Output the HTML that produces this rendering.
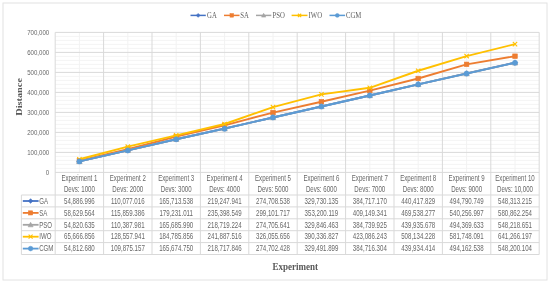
<!DOCTYPE html><html><head><meta charset="utf-8"><style>html,body{margin:0;padding:0;background:#fff;overflow:hidden}svg{display:block}</style></head><body>
<svg width="550" height="283" viewBox="0 0 550 283">
<rect x="0" y="0" width="550" height="283" fill="#fff"/>
<rect x="3" y="3" width="544" height="277" fill="#fff" stroke="#e2e2e2" stroke-width="1"/>
<path d="M55.2 36.40H539.2M55.2 40.40H539.2M55.2 44.40H539.2M55.2 48.40H539.2M55.2 56.40H539.2M55.2 60.40H539.2M55.2 64.40H539.2M55.2 68.40H539.2M55.2 76.40H539.2M55.2 80.40H539.2M55.2 84.40H539.2M55.2 88.40H539.2M55.2 96.40H539.2M55.2 100.40H539.2M55.2 104.40H539.2M55.2 108.40H539.2M55.2 116.40H539.2M55.2 120.40H539.2M55.2 124.40H539.2M55.2 128.40H539.2M55.2 136.40H539.2M55.2 140.40H539.2M55.2 144.40H539.2M55.2 148.40H539.2M55.2 156.40H539.2M55.2 160.40H539.2M55.2 164.40H539.2M55.2 168.40H539.2" stroke="#f4f4f4" stroke-width="1" fill="none"/>
<path d="M79.40 32.4V172.4M127.80 32.4V172.4M176.20 32.4V172.4M224.60 32.4V172.4M273.00 32.4V172.4M321.40 32.4V172.4M369.80 32.4V172.4M418.20 32.4V172.4M466.60 32.4V172.4M515.00 32.4V172.4" stroke="#f2f2f2" stroke-width="1" fill="none"/>
<path d="M55.2 32.40H539.2M55.2 52.40H539.2M55.2 72.40H539.2M55.2 92.40H539.2M55.2 112.40H539.2M55.2 132.40H539.2M55.2 152.40H539.2M55.2 172.40H539.2" stroke="#d9d9d9" stroke-width="1" fill="none"/>
<path d="M55.20 32.4V254.50M103.60 32.4V254.50M152.00 32.4V254.50M200.40 32.4V254.50M248.80 32.4V254.50M297.20 32.4V254.50M345.60 32.4V254.50M394.00 32.4V254.50M442.40 32.4V254.50M490.80 32.4V254.50M539.20 32.4V254.50M21.4 195.00H539.2M21.4 206.90H539.2M21.4 218.80H539.2M21.4 230.70H539.2M21.4 242.60H539.2M21.4 254.50H539.2M21.4 195V254.50" stroke="#d9d9d9" stroke-width="1" fill="none"/>
<polyline points="79.40,161.42 127.80,150.38 176.20,139.26 224.60,128.55 273.00,117.46 321.40,106.45 369.80,95.46 418.20,84.32 466.60,73.44 515.00,62.74" fill="none" stroke="#4472C4" stroke-width="1.9" stroke-linejoin="round" stroke-linecap="round"/>
<path d="M79.40 158.82L82.00 161.42L79.40 164.02L76.80 161.42Z" fill="#4472C4" stroke="#4472C4" stroke-width="0.6"/>
<path d="M127.80 147.78L130.40 150.38L127.80 152.98L125.20 150.38Z" fill="#4472C4" stroke="#4472C4" stroke-width="0.6"/>
<path d="M176.20 136.66L178.80 139.26L176.20 141.86L173.60 139.26Z" fill="#4472C4" stroke="#4472C4" stroke-width="0.6"/>
<path d="M224.60 125.95L227.20 128.55L224.60 131.15L222.00 128.55Z" fill="#4472C4" stroke="#4472C4" stroke-width="0.6"/>
<path d="M273.00 114.86L275.60 117.46L273.00 120.06L270.40 117.46Z" fill="#4472C4" stroke="#4472C4" stroke-width="0.6"/>
<path d="M321.40 103.85L324.00 106.45L321.40 109.05L318.80 106.45Z" fill="#4472C4" stroke="#4472C4" stroke-width="0.6"/>
<path d="M369.80 92.86L372.40 95.46L369.80 98.06L367.20 95.46Z" fill="#4472C4" stroke="#4472C4" stroke-width="0.6"/>
<path d="M418.20 81.72L420.80 84.32L418.20 86.92L415.60 84.32Z" fill="#4472C4" stroke="#4472C4" stroke-width="0.6"/>
<path d="M466.60 70.84L469.20 73.44L466.60 76.04L464.00 73.44Z" fill="#4472C4" stroke="#4472C4" stroke-width="0.6"/>
<path d="M515.00 60.14L517.60 62.74L515.00 65.34L512.40 62.74Z" fill="#4472C4" stroke="#4472C4" stroke-width="0.6"/>
<polyline points="79.40,160.67 127.80,149.23 176.20,136.55 224.60,125.32 273.00,112.58 321.40,101.76 369.80,90.57 418.20,78.49 466.60,64.35 515.00,56.23" fill="none" stroke="#ED7D31" stroke-width="1.9" stroke-linejoin="round" stroke-linecap="round"/>
<rect x="77.10" y="158.37" width="4.60" height="4.60" fill="#ED7D31" stroke="#ED7D31" stroke-width="0.6"/>
<rect x="125.50" y="146.93" width="4.60" height="4.60" fill="#ED7D31" stroke="#ED7D31" stroke-width="0.6"/>
<rect x="173.90" y="134.25" width="4.60" height="4.60" fill="#ED7D31" stroke="#ED7D31" stroke-width="0.6"/>
<rect x="222.30" y="123.02" width="4.60" height="4.60" fill="#ED7D31" stroke="#ED7D31" stroke-width="0.6"/>
<rect x="270.70" y="110.28" width="4.60" height="4.60" fill="#ED7D31" stroke="#ED7D31" stroke-width="0.6"/>
<rect x="319.10" y="99.46" width="4.60" height="4.60" fill="#ED7D31" stroke="#ED7D31" stroke-width="0.6"/>
<rect x="367.50" y="88.27" width="4.60" height="4.60" fill="#ED7D31" stroke="#ED7D31" stroke-width="0.6"/>
<rect x="415.90" y="76.19" width="4.60" height="4.60" fill="#ED7D31" stroke="#ED7D31" stroke-width="0.6"/>
<rect x="464.30" y="62.05" width="4.60" height="4.60" fill="#ED7D31" stroke="#ED7D31" stroke-width="0.6"/>
<rect x="512.70" y="53.93" width="4.60" height="4.60" fill="#ED7D31" stroke="#ED7D31" stroke-width="0.6"/>
<polyline points="79.40,161.44 127.80,150.32 176.20,139.26 224.60,128.66 273.00,117.46 321.40,106.43 369.80,95.45 418.20,84.41 466.60,73.53 515.00,62.76" fill="none" stroke="#A5A5A5" stroke-width="1.9" stroke-linejoin="round" stroke-linecap="round"/>
<path d="M79.40 158.64L82.20 163.68L76.60 163.68Z" fill="#A5A5A5" stroke="#A5A5A5" stroke-width="0.6"/>
<path d="M127.80 147.52L130.60 152.56L125.00 152.56Z" fill="#A5A5A5" stroke="#A5A5A5" stroke-width="0.6"/>
<path d="M176.20 136.46L179.00 141.50L173.40 141.50Z" fill="#A5A5A5" stroke="#A5A5A5" stroke-width="0.6"/>
<path d="M224.60 125.86L227.40 130.90L221.80 130.90Z" fill="#A5A5A5" stroke="#A5A5A5" stroke-width="0.6"/>
<path d="M273.00 114.66L275.80 119.70L270.20 119.70Z" fill="#A5A5A5" stroke="#A5A5A5" stroke-width="0.6"/>
<path d="M321.40 103.63L324.20 108.67L318.60 108.67Z" fill="#A5A5A5" stroke="#A5A5A5" stroke-width="0.6"/>
<path d="M369.80 92.65L372.60 97.69L367.00 97.69Z" fill="#A5A5A5" stroke="#A5A5A5" stroke-width="0.6"/>
<path d="M418.20 81.61L421.00 86.65L415.40 86.65Z" fill="#A5A5A5" stroke="#A5A5A5" stroke-width="0.6"/>
<path d="M466.60 70.73L469.40 75.77L463.80 75.77Z" fill="#A5A5A5" stroke="#A5A5A5" stroke-width="0.6"/>
<path d="M515.00 59.96L517.80 65.00L512.20 65.00Z" fill="#A5A5A5" stroke="#A5A5A5" stroke-width="0.6"/>
<polyline points="79.40,159.27 127.80,146.69 176.20,135.44 224.60,124.02 273.00,107.19 321.40,94.33 369.80,87.78 418.20,70.77 466.60,56.05 515.00,44.15" fill="none" stroke="#FFC000" stroke-width="1.9" stroke-linejoin="round" stroke-linecap="round"/>
<path d="M77.20 157.07L81.60 161.47M81.60 157.07L77.20 161.47" stroke="#FFC000" stroke-width="1.1" fill="none"/>
<path d="M125.60 144.49L130.00 148.89M130.00 144.49L125.60 148.89" stroke="#FFC000" stroke-width="1.1" fill="none"/>
<path d="M174.00 133.24L178.40 137.64M178.40 133.24L174.00 137.64" stroke="#FFC000" stroke-width="1.1" fill="none"/>
<path d="M222.40 121.82L226.80 126.22M226.80 121.82L222.40 126.22" stroke="#FFC000" stroke-width="1.1" fill="none"/>
<path d="M270.80 104.99L275.20 109.39M275.20 104.99L270.80 109.39" stroke="#FFC000" stroke-width="1.1" fill="none"/>
<path d="M319.20 92.13L323.60 96.53M323.60 92.13L319.20 96.53" stroke="#FFC000" stroke-width="1.1" fill="none"/>
<path d="M367.60 85.58L372.00 89.98M372.00 85.58L367.60 89.98" stroke="#FFC000" stroke-width="1.1" fill="none"/>
<path d="M416.00 68.57L420.40 72.97M420.40 68.57L416.00 72.97" stroke="#FFC000" stroke-width="1.1" fill="none"/>
<path d="M464.40 53.85L468.80 58.25M468.80 53.85L464.40 58.25" stroke="#FFC000" stroke-width="1.1" fill="none"/>
<path d="M512.80 41.95L517.20 46.35M517.20 41.95L512.80 46.35" stroke="#FFC000" stroke-width="1.1" fill="none"/>
<polyline points="79.40,161.44 127.80,150.42 176.20,139.27 224.60,128.66 273.00,117.46 321.40,106.50 369.80,95.46 418.20,84.41 466.60,73.57 515.00,62.76" fill="none" stroke="#5B9BD5" stroke-width="1.9" stroke-linejoin="round" stroke-linecap="round"/>
<circle cx="79.40" cy="161.44" r="2.60" fill="#5B9BD5" stroke="#5B9BD5" stroke-width="0.5"/>
<circle cx="127.80" cy="150.42" r="2.60" fill="#5B9BD5" stroke="#5B9BD5" stroke-width="0.5"/>
<circle cx="176.20" cy="139.27" r="2.60" fill="#5B9BD5" stroke="#5B9BD5" stroke-width="0.5"/>
<circle cx="224.60" cy="128.66" r="2.60" fill="#5B9BD5" stroke="#5B9BD5" stroke-width="0.5"/>
<circle cx="273.00" cy="117.46" r="2.60" fill="#5B9BD5" stroke="#5B9BD5" stroke-width="0.5"/>
<circle cx="321.40" cy="106.50" r="2.60" fill="#5B9BD5" stroke="#5B9BD5" stroke-width="0.5"/>
<circle cx="369.80" cy="95.46" r="2.60" fill="#5B9BD5" stroke="#5B9BD5" stroke-width="0.5"/>
<circle cx="418.20" cy="84.41" r="2.60" fill="#5B9BD5" stroke="#5B9BD5" stroke-width="0.5"/>
<circle cx="466.60" cy="73.57" r="2.60" fill="#5B9BD5" stroke="#5B9BD5" stroke-width="0.5"/>
<circle cx="515.00" cy="62.76" r="2.60" fill="#5B9BD5" stroke="#5B9BD5" stroke-width="0.5"/>
<text transform="translate(49.20 34.60) scale(0.846 1)" text-anchor="end" font-size="7.2" font-family="Liberation Sans, Arial, sans-serif" fill="#686868">700,000</text>
<text transform="translate(49.20 54.60) scale(0.846 1)" text-anchor="end" font-size="7.2" font-family="Liberation Sans, Arial, sans-serif" fill="#686868">600,000</text>
<text transform="translate(49.20 74.60) scale(0.846 1)" text-anchor="end" font-size="7.2" font-family="Liberation Sans, Arial, sans-serif" fill="#686868">500,000</text>
<text transform="translate(49.20 94.60) scale(0.846 1)" text-anchor="end" font-size="7.2" font-family="Liberation Sans, Arial, sans-serif" fill="#686868">400,000</text>
<text transform="translate(49.20 114.60) scale(0.846 1)" text-anchor="end" font-size="7.2" font-family="Liberation Sans, Arial, sans-serif" fill="#686868">300,000</text>
<text transform="translate(49.20 134.60) scale(0.846 1)" text-anchor="end" font-size="7.2" font-family="Liberation Sans, Arial, sans-serif" fill="#686868">200,000</text>
<text transform="translate(49.20 154.60) scale(0.846 1)" text-anchor="end" font-size="7.2" font-family="Liberation Sans, Arial, sans-serif" fill="#686868">100,000</text>
<text transform="translate(49.20 174.60) scale(0.846 1)" text-anchor="end" font-size="7.2" font-family="Liberation Sans, Arial, sans-serif" fill="#686868">0</text>
<text transform="translate(79.40 180.80) scale(0.712 1)" text-anchor="middle" font-size="8.6" font-family="Liberation Sans, Arial, sans-serif" fill="#686868">Experiment 1</text>
<text transform="translate(79.40 192.20) scale(0.712 1)" text-anchor="middle" font-size="8.6" font-family="Liberation Sans, Arial, sans-serif" fill="#686868">Devs: 1000</text>
<text transform="translate(127.80 180.80) scale(0.712 1)" text-anchor="middle" font-size="8.6" font-family="Liberation Sans, Arial, sans-serif" fill="#686868">Experiment 2</text>
<text transform="translate(127.80 192.20) scale(0.712 1)" text-anchor="middle" font-size="8.6" font-family="Liberation Sans, Arial, sans-serif" fill="#686868">Devs: 2000</text>
<text transform="translate(176.20 180.80) scale(0.712 1)" text-anchor="middle" font-size="8.6" font-family="Liberation Sans, Arial, sans-serif" fill="#686868">Experiment 3</text>
<text transform="translate(176.20 192.20) scale(0.712 1)" text-anchor="middle" font-size="8.6" font-family="Liberation Sans, Arial, sans-serif" fill="#686868">Devs: 3000</text>
<text transform="translate(224.60 180.80) scale(0.712 1)" text-anchor="middle" font-size="8.6" font-family="Liberation Sans, Arial, sans-serif" fill="#686868">Experiment 4</text>
<text transform="translate(224.60 192.20) scale(0.712 1)" text-anchor="middle" font-size="8.6" font-family="Liberation Sans, Arial, sans-serif" fill="#686868">Devs: 4000</text>
<text transform="translate(273.00 180.80) scale(0.712 1)" text-anchor="middle" font-size="8.6" font-family="Liberation Sans, Arial, sans-serif" fill="#686868">Experiment 5</text>
<text transform="translate(273.00 192.20) scale(0.712 1)" text-anchor="middle" font-size="8.6" font-family="Liberation Sans, Arial, sans-serif" fill="#686868">Devs: 5000</text>
<text transform="translate(321.40 180.80) scale(0.712 1)" text-anchor="middle" font-size="8.6" font-family="Liberation Sans, Arial, sans-serif" fill="#686868">Experiment 6</text>
<text transform="translate(321.40 192.20) scale(0.712 1)" text-anchor="middle" font-size="8.6" font-family="Liberation Sans, Arial, sans-serif" fill="#686868">Devs: 6000</text>
<text transform="translate(369.80 180.80) scale(0.712 1)" text-anchor="middle" font-size="8.6" font-family="Liberation Sans, Arial, sans-serif" fill="#686868">Experiment 7</text>
<text transform="translate(369.80 192.20) scale(0.712 1)" text-anchor="middle" font-size="8.6" font-family="Liberation Sans, Arial, sans-serif" fill="#686868">Devs: 7000</text>
<text transform="translate(418.20 180.80) scale(0.712 1)" text-anchor="middle" font-size="8.6" font-family="Liberation Sans, Arial, sans-serif" fill="#686868">Experiment 8</text>
<text transform="translate(418.20 192.20) scale(0.712 1)" text-anchor="middle" font-size="8.6" font-family="Liberation Sans, Arial, sans-serif" fill="#686868">Devs: 8000</text>
<text transform="translate(466.60 180.80) scale(0.712 1)" text-anchor="middle" font-size="8.6" font-family="Liberation Sans, Arial, sans-serif" fill="#686868">Experiment 9</text>
<text transform="translate(466.60 192.20) scale(0.712 1)" text-anchor="middle" font-size="8.6" font-family="Liberation Sans, Arial, sans-serif" fill="#686868">Devs: 9000</text>
<text transform="translate(515.00 180.80) scale(0.712 1)" text-anchor="middle" font-size="8.6" font-family="Liberation Sans, Arial, sans-serif" fill="#686868">Experiment 10</text>
<text transform="translate(515.00 192.20) scale(0.712 1)" text-anchor="middle" font-size="8.6" font-family="Liberation Sans, Arial, sans-serif" fill="#686868">Devs: 10,000</text>
<text transform="translate(79.40 203.70) scale(0.712 1)" text-anchor="middle" font-size="8.6" font-family="Liberation Sans, Arial, sans-serif" fill="#686868">54,886.996</text>
<text transform="translate(127.80 203.70) scale(0.712 1)" text-anchor="middle" font-size="8.6" font-family="Liberation Sans, Arial, sans-serif" fill="#686868">110,077.016</text>
<text transform="translate(176.20 203.70) scale(0.712 1)" text-anchor="middle" font-size="8.6" font-family="Liberation Sans, Arial, sans-serif" fill="#686868">165,713.538</text>
<text transform="translate(224.60 203.70) scale(0.712 1)" text-anchor="middle" font-size="8.6" font-family="Liberation Sans, Arial, sans-serif" fill="#686868">219,247.941</text>
<text transform="translate(273.00 203.70) scale(0.712 1)" text-anchor="middle" font-size="8.6" font-family="Liberation Sans, Arial, sans-serif" fill="#686868">274,708.538</text>
<text transform="translate(321.40 203.70) scale(0.712 1)" text-anchor="middle" font-size="8.6" font-family="Liberation Sans, Arial, sans-serif" fill="#686868">329,730.135</text>
<text transform="translate(369.80 203.70) scale(0.712 1)" text-anchor="middle" font-size="8.6" font-family="Liberation Sans, Arial, sans-serif" fill="#686868">384,717.170</text>
<text transform="translate(418.20 203.70) scale(0.712 1)" text-anchor="middle" font-size="8.6" font-family="Liberation Sans, Arial, sans-serif" fill="#686868">440,417.829</text>
<text transform="translate(466.60 203.70) scale(0.712 1)" text-anchor="middle" font-size="8.6" font-family="Liberation Sans, Arial, sans-serif" fill="#686868">494,790.749</text>
<text transform="translate(515.00 203.70) scale(0.712 1)" text-anchor="middle" font-size="8.6" font-family="Liberation Sans, Arial, sans-serif" fill="#686868">548,313.215</text>
<path d="M22.8 201.00H38.6" stroke="#4472C4" stroke-width="1.8"/>
<path d="M30.60 198.66L32.94 201.00L30.60 203.34L28.26 201.00Z" fill="#4472C4" stroke="#4472C4" stroke-width="0.6"/>
<text transform="translate(39.20 203.70) scale(0.712 1)" font-size="8.6" font-family="Liberation Sans, Arial, sans-serif" fill="#686868">GA</text>
<text transform="translate(79.40 215.60) scale(0.712 1)" text-anchor="middle" font-size="8.6" font-family="Liberation Sans, Arial, sans-serif" fill="#686868">58,629.564</text>
<text transform="translate(127.80 215.60) scale(0.712 1)" text-anchor="middle" font-size="8.6" font-family="Liberation Sans, Arial, sans-serif" fill="#686868">115,859.386</text>
<text transform="translate(176.20 215.60) scale(0.712 1)" text-anchor="middle" font-size="8.6" font-family="Liberation Sans, Arial, sans-serif" fill="#686868">179,231.011</text>
<text transform="translate(224.60 215.60) scale(0.712 1)" text-anchor="middle" font-size="8.6" font-family="Liberation Sans, Arial, sans-serif" fill="#686868">235,398.549</text>
<text transform="translate(273.00 215.60) scale(0.712 1)" text-anchor="middle" font-size="8.6" font-family="Liberation Sans, Arial, sans-serif" fill="#686868">299,101.717</text>
<text transform="translate(321.40 215.60) scale(0.712 1)" text-anchor="middle" font-size="8.6" font-family="Liberation Sans, Arial, sans-serif" fill="#686868">353,200.119</text>
<text transform="translate(369.80 215.60) scale(0.712 1)" text-anchor="middle" font-size="8.6" font-family="Liberation Sans, Arial, sans-serif" fill="#686868">409,149.341</text>
<text transform="translate(418.20 215.60) scale(0.712 1)" text-anchor="middle" font-size="8.6" font-family="Liberation Sans, Arial, sans-serif" fill="#686868">469,538.277</text>
<text transform="translate(466.60 215.60) scale(0.712 1)" text-anchor="middle" font-size="8.6" font-family="Liberation Sans, Arial, sans-serif" fill="#686868">540,256.997</text>
<text transform="translate(515.00 215.60) scale(0.712 1)" text-anchor="middle" font-size="8.6" font-family="Liberation Sans, Arial, sans-serif" fill="#686868">580,862.254</text>
<path d="M22.8 212.90H38.6" stroke="#ED7D31" stroke-width="1.8"/>
<rect x="28.53" y="210.83" width="4.14" height="4.14" fill="#ED7D31" stroke="#ED7D31" stroke-width="0.6"/>
<text transform="translate(39.20 215.60) scale(0.712 1)" font-size="8.6" font-family="Liberation Sans, Arial, sans-serif" fill="#686868">SA</text>
<text transform="translate(79.40 227.50) scale(0.712 1)" text-anchor="middle" font-size="8.6" font-family="Liberation Sans, Arial, sans-serif" fill="#686868">54,820.635</text>
<text transform="translate(127.80 227.50) scale(0.712 1)" text-anchor="middle" font-size="8.6" font-family="Liberation Sans, Arial, sans-serif" fill="#686868">110,387.981</text>
<text transform="translate(176.20 227.50) scale(0.712 1)" text-anchor="middle" font-size="8.6" font-family="Liberation Sans, Arial, sans-serif" fill="#686868">165,685.990</text>
<text transform="translate(224.60 227.50) scale(0.712 1)" text-anchor="middle" font-size="8.6" font-family="Liberation Sans, Arial, sans-serif" fill="#686868">218,719.224</text>
<text transform="translate(273.00 227.50) scale(0.712 1)" text-anchor="middle" font-size="8.6" font-family="Liberation Sans, Arial, sans-serif" fill="#686868">274,705.641</text>
<text transform="translate(321.40 227.50) scale(0.712 1)" text-anchor="middle" font-size="8.6" font-family="Liberation Sans, Arial, sans-serif" fill="#686868">329,846.463</text>
<text transform="translate(369.80 227.50) scale(0.712 1)" text-anchor="middle" font-size="8.6" font-family="Liberation Sans, Arial, sans-serif" fill="#686868">384,739.925</text>
<text transform="translate(418.20 227.50) scale(0.712 1)" text-anchor="middle" font-size="8.6" font-family="Liberation Sans, Arial, sans-serif" fill="#686868">439,935.678</text>
<text transform="translate(466.60 227.50) scale(0.712 1)" text-anchor="middle" font-size="8.6" font-family="Liberation Sans, Arial, sans-serif" fill="#686868">494,369.633</text>
<text transform="translate(515.00 227.50) scale(0.712 1)" text-anchor="middle" font-size="8.6" font-family="Liberation Sans, Arial, sans-serif" fill="#686868">548,218.651</text>
<path d="M22.8 224.80H38.6" stroke="#A5A5A5" stroke-width="1.8"/>
<path d="M30.60 222.28L33.12 226.82L28.08 226.82Z" fill="#A5A5A5" stroke="#A5A5A5" stroke-width="0.6"/>
<text transform="translate(39.20 227.50) scale(0.712 1)" font-size="8.6" font-family="Liberation Sans, Arial, sans-serif" fill="#686868">PSO</text>
<text transform="translate(79.40 239.40) scale(0.712 1)" text-anchor="middle" font-size="8.6" font-family="Liberation Sans, Arial, sans-serif" fill="#686868">65,666.856</text>
<text transform="translate(127.80 239.40) scale(0.712 1)" text-anchor="middle" font-size="8.6" font-family="Liberation Sans, Arial, sans-serif" fill="#686868">128,557.941</text>
<text transform="translate(176.20 239.40) scale(0.712 1)" text-anchor="middle" font-size="8.6" font-family="Liberation Sans, Arial, sans-serif" fill="#686868">184,785.856</text>
<text transform="translate(224.60 239.40) scale(0.712 1)" text-anchor="middle" font-size="8.6" font-family="Liberation Sans, Arial, sans-serif" fill="#686868">241,887.516</text>
<text transform="translate(273.00 239.40) scale(0.712 1)" text-anchor="middle" font-size="8.6" font-family="Liberation Sans, Arial, sans-serif" fill="#686868">326,055.656</text>
<text transform="translate(321.40 239.40) scale(0.712 1)" text-anchor="middle" font-size="8.6" font-family="Liberation Sans, Arial, sans-serif" fill="#686868">390,336.827</text>
<text transform="translate(369.80 239.40) scale(0.712 1)" text-anchor="middle" font-size="8.6" font-family="Liberation Sans, Arial, sans-serif" fill="#686868">423,086.243</text>
<text transform="translate(418.20 239.40) scale(0.712 1)" text-anchor="middle" font-size="8.6" font-family="Liberation Sans, Arial, sans-serif" fill="#686868">508,134.228</text>
<text transform="translate(466.60 239.40) scale(0.712 1)" text-anchor="middle" font-size="8.6" font-family="Liberation Sans, Arial, sans-serif" fill="#686868">581,748.091</text>
<text transform="translate(515.00 239.40) scale(0.712 1)" text-anchor="middle" font-size="8.6" font-family="Liberation Sans, Arial, sans-serif" fill="#686868">641,266.197</text>
<path d="M22.8 236.70H38.6" stroke="#FFC000" stroke-width="1.8"/>
<path d="M28.62 234.72L32.58 238.68M32.58 234.72L28.62 238.68" stroke="#FFC000" stroke-width="1.1" fill="none"/>
<text transform="translate(39.20 239.40) scale(0.712 1)" font-size="8.6" font-family="Liberation Sans, Arial, sans-serif" fill="#686868">IWO</text>
<text transform="translate(79.40 251.30) scale(0.712 1)" text-anchor="middle" font-size="8.6" font-family="Liberation Sans, Arial, sans-serif" fill="#686868">54,812.680</text>
<text transform="translate(127.80 251.30) scale(0.712 1)" text-anchor="middle" font-size="8.6" font-family="Liberation Sans, Arial, sans-serif" fill="#686868">109,875.157</text>
<text transform="translate(176.20 251.30) scale(0.712 1)" text-anchor="middle" font-size="8.6" font-family="Liberation Sans, Arial, sans-serif" fill="#686868">165,674.750</text>
<text transform="translate(224.60 251.30) scale(0.712 1)" text-anchor="middle" font-size="8.6" font-family="Liberation Sans, Arial, sans-serif" fill="#686868">218,717.846</text>
<text transform="translate(273.00 251.30) scale(0.712 1)" text-anchor="middle" font-size="8.6" font-family="Liberation Sans, Arial, sans-serif" fill="#686868">274,702.428</text>
<text transform="translate(321.40 251.30) scale(0.712 1)" text-anchor="middle" font-size="8.6" font-family="Liberation Sans, Arial, sans-serif" fill="#686868">329,491.899</text>
<text transform="translate(369.80 251.30) scale(0.712 1)" text-anchor="middle" font-size="8.6" font-family="Liberation Sans, Arial, sans-serif" fill="#686868">384,716.304</text>
<text transform="translate(418.20 251.30) scale(0.712 1)" text-anchor="middle" font-size="8.6" font-family="Liberation Sans, Arial, sans-serif" fill="#686868">439,934.414</text>
<text transform="translate(466.60 251.30) scale(0.712 1)" text-anchor="middle" font-size="8.6" font-family="Liberation Sans, Arial, sans-serif" fill="#686868">494,162.538</text>
<text transform="translate(515.00 251.30) scale(0.712 1)" text-anchor="middle" font-size="8.6" font-family="Liberation Sans, Arial, sans-serif" fill="#686868">548,200.104</text>
<path d="M22.8 248.60H38.6" stroke="#5B9BD5" stroke-width="1.8"/>
<circle cx="30.60" cy="248.60" r="2.34" fill="#5B9BD5" stroke="#5B9BD5" stroke-width="0.5"/>
<text transform="translate(39.20 251.30) scale(0.712 1)" font-size="8.6" font-family="Liberation Sans, Arial, sans-serif" fill="#686868">CGM</text>
<path d="M190.5 15.4H205.8" stroke="#4472C4" stroke-width="1.5"/>
<path d="M198.15 13.45L200.10 15.40L198.15 17.35L196.20 15.40Z" fill="#4472C4" stroke="#4472C4" stroke-width="0.6"/>
<text transform="translate(207.10 17.90) scale(0.89 1)" font-size="7.6" font-family="Liberation Serif, Times New Roman, serif" fill="#606060">GA</text>
<path d="M224 15.4H239.5" stroke="#ED7D31" stroke-width="1.5"/>
<rect x="230.03" y="13.68" width="3.45" height="3.45" fill="#ED7D31" stroke="#ED7D31" stroke-width="0.6"/>
<text transform="translate(240.20 17.90) scale(0.89 1)" font-size="7.6" font-family="Liberation Serif, Times New Roman, serif" fill="#606060">SA</text>
<path d="M256 15.4H271.3" stroke="#A5A5A5" stroke-width="1.5"/>
<path d="M263.65 13.30L265.75 17.08L261.55 17.08Z" fill="#A5A5A5" stroke="#A5A5A5" stroke-width="0.6"/>
<text transform="translate(272.40 17.90) scale(0.89 1)" font-size="7.6" font-family="Liberation Serif, Times New Roman, serif" fill="#606060">PSO</text>
<path d="M291.6 15.4H307.5" stroke="#FFC000" stroke-width="1.5"/>
<path d="M297.90 13.75L301.20 17.05M301.20 13.75L297.90 17.05" stroke="#FFC000" stroke-width="1.1" fill="none"/>
<text transform="translate(308.60 17.90) scale(0.89 1)" font-size="7.6" font-family="Liberation Serif, Times New Roman, serif" fill="#606060">IWO</text>
<path d="M329.5 15.4H345.1" stroke="#5B9BD5" stroke-width="1.5"/>
<circle cx="337.30" cy="15.40" r="1.95" fill="#5B9BD5" stroke="#5B9BD5" stroke-width="0.5"/>
<text transform="translate(345.90 17.90) scale(0.89 1)" font-size="7.6" font-family="Liberation Serif, Times New Roman, serif" fill="#606060">CGM</text>
<text transform="translate(295.20 270.30) scale(0.867 1)" text-anchor="middle" font-size="10.4" font-family="Liberation Serif, Times New Roman, serif" fill="#595959" font-weight="bold">Experiment</text>
<text transform="translate(21.80 96.90) rotate(-90) scale(1.12 1)" text-anchor="middle" font-size="9.2" font-family="Liberation Serif, Times New Roman, serif" fill="#595959" font-weight="bold">Distance</text>
</svg></body></html>
